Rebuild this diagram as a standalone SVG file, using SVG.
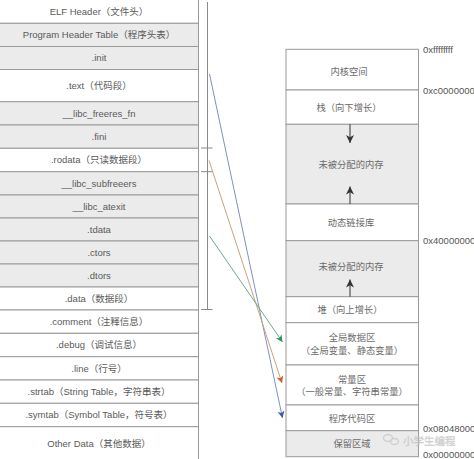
<svg xmlns="http://www.w3.org/2000/svg" width="474" height="459" viewBox="0 0 474 459">
<defs>
<style>
.w{fill:#ffffff;stroke:#9a9a9a;stroke-width:1}
.g{fill:#ebebeb;stroke:#9a9a9a;stroke-width:1}
.lt{font-family:"Liberation Sans","Noto Sans CJK SC",sans-serif;font-size:9.5px;fill:#5a5a5a;text-anchor:middle}
.rt{font-family:"Liberation Serif","Noto Sans CJK SC",serif;font-size:9.3px;fill:#6a6a6a;text-anchor:middle}
.ad{font-family:"Liberation Sans",sans-serif;font-size:9.5px;fill:#555555}
.br{stroke:#8a8a8a;stroke-width:1;fill:none}
</style>
<marker id="mb" markerWidth="8" markerHeight="8" refX="7" refY="4" orient="auto" markerUnits="userSpaceOnUse"><path d="M0,0.5 L7,4 L0,7.5 L2,4 Z" fill="#3f5aa8"/></marker>
<marker id="mo" markerWidth="8" markerHeight="8" refX="7" refY="4" orient="auto" markerUnits="userSpaceOnUse"><path d="M0,0.5 L7,4 L0,7.5 L2,4 Z" fill="#cf5a2a"/></marker>
<marker id="mg" markerWidth="8" markerHeight="8" refX="7" refY="4" orient="auto" markerUnits="userSpaceOnUse"><path d="M0,0.5 L7,4 L0,7.5 L2,4 Z" fill="#229a5c"/></marker>
<marker id="mk" markerWidth="9" markerHeight="9" refX="8" refY="4.5" orient="auto" markerUnits="userSpaceOnUse"><path d="M0,0.5 L8,4.5 L0,8.5 L2.2,4.5 Z" fill="#333333"/></marker>
</defs>
<rect width="474" height="459" fill="#ffffff"/>

<g id="elf-sections">
<g id="s-elfheader"><rect class="w" x="-1" y="-1" width="199.5" height="24.3"/><text class="lt" x="99" y="15">ELF Header（文件头）</text></g>
<g id="s-pht"><rect class="g" x="-1" y="23.3" width="199.5" height="23.2"/><text class="lt" x="99" y="38.3">Program Header Table（程序头表）</text></g>
<g id="s-init"><rect class="g" x="-1" y="46.5" width="199.5" height="23"/><text class="lt" x="99" y="61.3">.init</text></g>
<g id="s-text"><rect class="w" x="-1" y="69.5" width="199.5" height="32.2"/><text class="lt" x="99" y="89">.text（代码段）</text></g>
<g id="s-freeres"><rect class="g" x="-1" y="101.7" width="199.5" height="23.3"/><text class="lt" x="99" y="116.6">__libc_freeres_fn</text></g>
<g id="s-fini"><rect class="g" x="-1" y="125" width="199.5" height="23.3"/><text class="lt" x="99" y="140">.fini</text></g>
<g id="s-rodata"><rect class="w" x="-1" y="148.3" width="199.5" height="23.4"/><text class="lt" x="99" y="163.3">.rodata（只读数据段）</text></g>
<g id="s-subfreeers"><rect class="g" x="-1" y="171.7" width="199.5" height="23.3"/><text class="lt" x="99" y="186.6">__libc_subfreeers</text></g>
<g id="s-atexit"><rect class="g" x="-1" y="195" width="199.5" height="23"/><text class="lt" x="99" y="209.8">__libc_atexit</text></g>
<g id="s-tdata"><rect class="g" x="-1" y="218" width="199.5" height="23"/><text class="lt" x="99" y="232.8">.tdata</text></g>
<g id="s-ctors"><rect class="g" x="-1" y="241" width="199.5" height="23"/><text class="lt" x="99" y="255.8">.ctors</text></g>
<g id="s-dtors"><rect class="g" x="-1" y="264" width="199.5" height="23"/><text class="lt" x="99" y="278.8">.dtors</text></g>
<g id="s-data"><rect class="w" x="-1" y="287" width="199.5" height="23"/><text class="lt" x="99" y="301.8">.data（数据段）</text></g>
<g id="s-comment"><rect class="w" x="-1" y="310" width="199.5" height="23.3"/><text class="lt" x="99" y="325">.comment（注释信息）</text></g>
<g id="s-debug"><rect class="w" x="-1" y="333.3" width="199.5" height="23.4"/><text class="lt" x="99" y="348.3">.debug（调试信息）</text></g>
<g id="s-line"><rect class="w" x="-1" y="356.7" width="199.5" height="23.3"/><text class="lt" x="99" y="371.6">.line（行号）</text></g>
<g id="s-strtab"><rect class="w" x="-1" y="380" width="199.5" height="23.3"/><text class="lt" x="99" y="395">.strtab（String Table，字符串表）</text></g>
<g id="s-symtab"><rect class="w" x="-1" y="403.3" width="199.5" height="23.4"/><text class="lt" x="99" y="418.3">.symtab（Symbol Table，符号表）</text></g>
<g id="s-other"><rect class="w" x="-1" y="426.7" width="199.5" height="34"/><text class="lt" x="99" y="446.5">Other Data（其他数据）</text></g>
</g>

<g id="bracket">
<path class="br" d="M207.5,2 V309.5 M201,148 H212.5 M201,171.7 H212.5 M201,309.5 H212.5"/>
</g>

<g id="memory">
<g id="m-kernel"><rect class="w" x="286" y="49.3" width="132.5" height="40.7"/><text class="rt" x="349" y="75">内核空间</text></g>
<g id="m-stack"><rect class="w" x="286" y="90" width="132.5" height="34.3"/><text class="rt" x="349" y="111">栈（向下增长）</text></g>
<g id="m-free1"><rect class="g" x="286" y="124.3" width="132.5" height="79.7"/><text class="rt" x="351" y="168">未被分配的内存</text></g>
<g id="m-dyn"><rect class="w" x="286" y="204" width="132.5" height="36.7"/><text class="rt" x="351" y="226">动态链接库</text></g>
<g id="m-free2"><rect class="g" x="286" y="240.7" width="132.5" height="56"/><text class="rt" x="351" y="270">未被分配的内存</text></g>
<g id="m-heap"><rect class="w" x="286" y="296.7" width="132.5" height="26"/><text class="rt" x="350" y="313">堆（向上增长）</text></g>
<g id="m-global"><rect class="w" x="286" y="322.7" width="132.5" height="42.3"/><text class="rt" x="352" y="341">全局数据区</text><text class="rt" x="352" y="354">（全局变量、静态变量）</text></g>
<g id="m-const"><rect class="w" x="286" y="365" width="132.5" height="40"/><text class="rt" x="352" y="383">常量区</text><text class="rt" x="352" y="395">（一般常量、字符串常量）</text></g>
<g id="m-code"><rect class="w" x="286" y="405" width="132.5" height="25.7"/><text class="rt" x="352" y="421.5">程序代码区</text></g>
<g id="m-reserved"><rect class="g" x="286" y="430.7" width="132.5" height="26"/><text class="rt" x="352" y="447">保留区域</text></g>
</g>

<g id="addresses">
<text class="ad" x="423" y="52.5">0xffffffff</text>
<text class="ad" x="423" y="94">0xc0000000</text>
<text class="ad" x="423" y="244">0x40000000</text>
<text class="ad" x="423" y="432">0x08048000</text>
<text class="ad" x="423" y="458">0x00000000</text>
</g>

<g id="connectors">
<line x1="209.5" y1="74" x2="282.5" y2="418" stroke="#8090c0" stroke-width="1" marker-end="url(#mb)"/>
<line x1="209" y1="160.5" x2="282" y2="383" stroke="#c9a27e" stroke-width="1" marker-end="url(#mo)"/>
<line x1="209.5" y1="236" x2="282.5" y2="342" stroke="#6fa88c" stroke-width="1" marker-end="url(#mg)"/>
<line x1="350" y1="124.3" x2="350" y2="143" stroke="#333333" stroke-width="1" marker-end="url(#mk)"/>
<line x1="350" y1="204" x2="350" y2="186.5" stroke="#333333" stroke-width="1" marker-end="url(#mk)"/>
<line x1="350" y1="296.7" x2="350" y2="279.5" stroke="#333333" stroke-width="1" marker-end="url(#mk)"/>
</g>

<g id="watermark" opacity="0.75">
<ellipse cx="388" cy="438" rx="4.5" ry="3.5" fill="none" stroke="#c8c8c8" stroke-width="1.4"/>
<ellipse cx="394.5" cy="441.5" rx="4" ry="3" fill="none" stroke="#c8c8c8" stroke-width="1.4"/>
<text x="403" y="445" font-family="Noto Sans CJK SC,sans-serif" font-size="10.5px" fill="#d0d0d0" stroke="#b8b8b8" stroke-width="0.3">小学生编程</text>
</g>
</svg>
